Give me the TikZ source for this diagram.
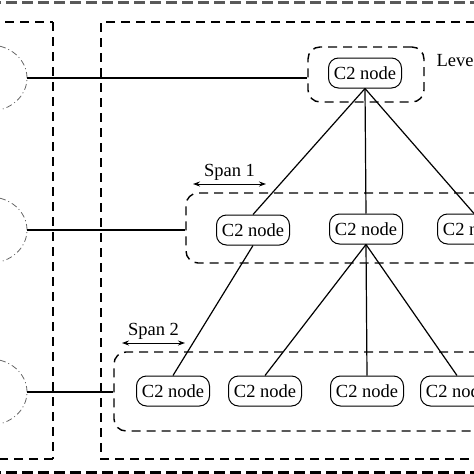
\documentclass[tikz,border=0pt]{standalone}
\usepackage{fontspec}
\setmainfont{Liberation Serif}
\usetikzlibrary{arrows.meta,shapes.geometric}
\tikzset{
c2node/.style={draw, line width=1pt, rounded corners=10pt, minimum width=73pt, minimum height=30pt, inner sep=0pt, fill=white},
levelbox/.style={draw, dash pattern=on 9pt off 6pt, line width=1.4pt, rounded corners=12pt, inner sep=0pt},
cluster/.style={draw=gray!80!black, ellipse, dash pattern=on 6pt off 3pt on 1pt off 3pt, line width=0.8pt, minimum width=74pt, minimum height=66pt},
span/.style={{Stealth[length=7pt,width=5pt]}-{Stealth[length=7pt,width=5pt]}, line width=1pt}
}
\begin{document}
\begin{tikzpicture}[x=1pt,y=-1pt,font=\fontsize{18.5}{21}\selectfont]
\useasboundingbox (0,0) rectangle (474,474);
\clip (0,0) rectangle (474,474);
\draw[draw=gray!70!black, line width=3pt, dash pattern=on 11pt off 5pt] (-10,2.5)--(490,2.5);
\draw[line width=3pt, dash pattern=on 11pt off 5pt] (-10,472)--(490,472);
\draw[line width=1.4pt, dash pattern=on 9pt off 6pt] (-10,22)--(53,22);
\draw[line width=2pt, dash pattern=on 9pt off 6pt] (53,22)--(53,459);
\draw[line width=1.4pt, dash pattern=on 9pt off 6pt] (53,459)--(-10,459);
\draw[line width=1.4pt, dash pattern=on 9pt off 6pt] (520,22)--(101,22)--(101,459)--(520,459);
\node[cluster] (e1) at (-10,78) {};
\node[cluster] (e2) at (-10,230) {};
\node[cluster] (e3) at (-10,392) {};
\node[levelbox, minimum width=116pt, minimum height=55pt] (lv0) at (366,74.5) {};
\node[levelbox, minimum width=334pt, minimum height=70pt] (lv1) at (353,228) {};
\node[levelbox, minimum width=406pt, minimum height=79pt] (lv2) at (317,391.5) {};
\node[anchor=base west] (lab0) at (433,66) {Leve};
\node[c2node] (top) at (365,73) {C2 node};
\node[c2node] (m1) at (253,230) {C2 node};
\node[c2node] (m2) at (366,229) {C2 node};
\node[c2node] (m3) at (474,229) {C2 node};
\node[c2node] (b1) at (173,391) {C2 node};
\node[c2node] (b2) at (265,391) {C2 node};
\node[c2node] (b3) at (367,391) {C2 node};
\node[c2node] (b4) at (457,391) {C2 node};
\draw[line width=1.2pt] (e1.east)--(e1.east -| lv0.west);
\draw[line width=1.2pt] (e2.east)--(e2.east -| lv1.west);
\draw[line width=1.2pt] (e3.east)--(e3.east -| lv2.west);
\draw[line width=1.2pt] (top.south)--(m1.north);
\draw[line width=1.2pt] (top.south)--(m2.north);
\draw[line width=1.2pt] (top.south)--(m3.north);
\draw[line width=1.2pt] (m1.south)--(b1.north);
\draw[line width=1.2pt] (m2.south)--(b2.north);
\draw[line width=1.2pt] (m2.south)--(b3.north);
\draw[line width=1.2pt] (m2.south)--(b4.north);
\coordinate (s1a) at (193,184);
\coordinate (s1b) at (266,184);
\draw[span] (s1a)--(s1b) node[midway, above=0pt] (sp1) {Span 1};
\coordinate (s2a) at (122,343);
\coordinate (s2b) at (185,343);
\draw[span] (s2a)--(s2b) node[midway, above=0pt] (sp2) {Span 2};
\end{tikzpicture}
\end{document}
